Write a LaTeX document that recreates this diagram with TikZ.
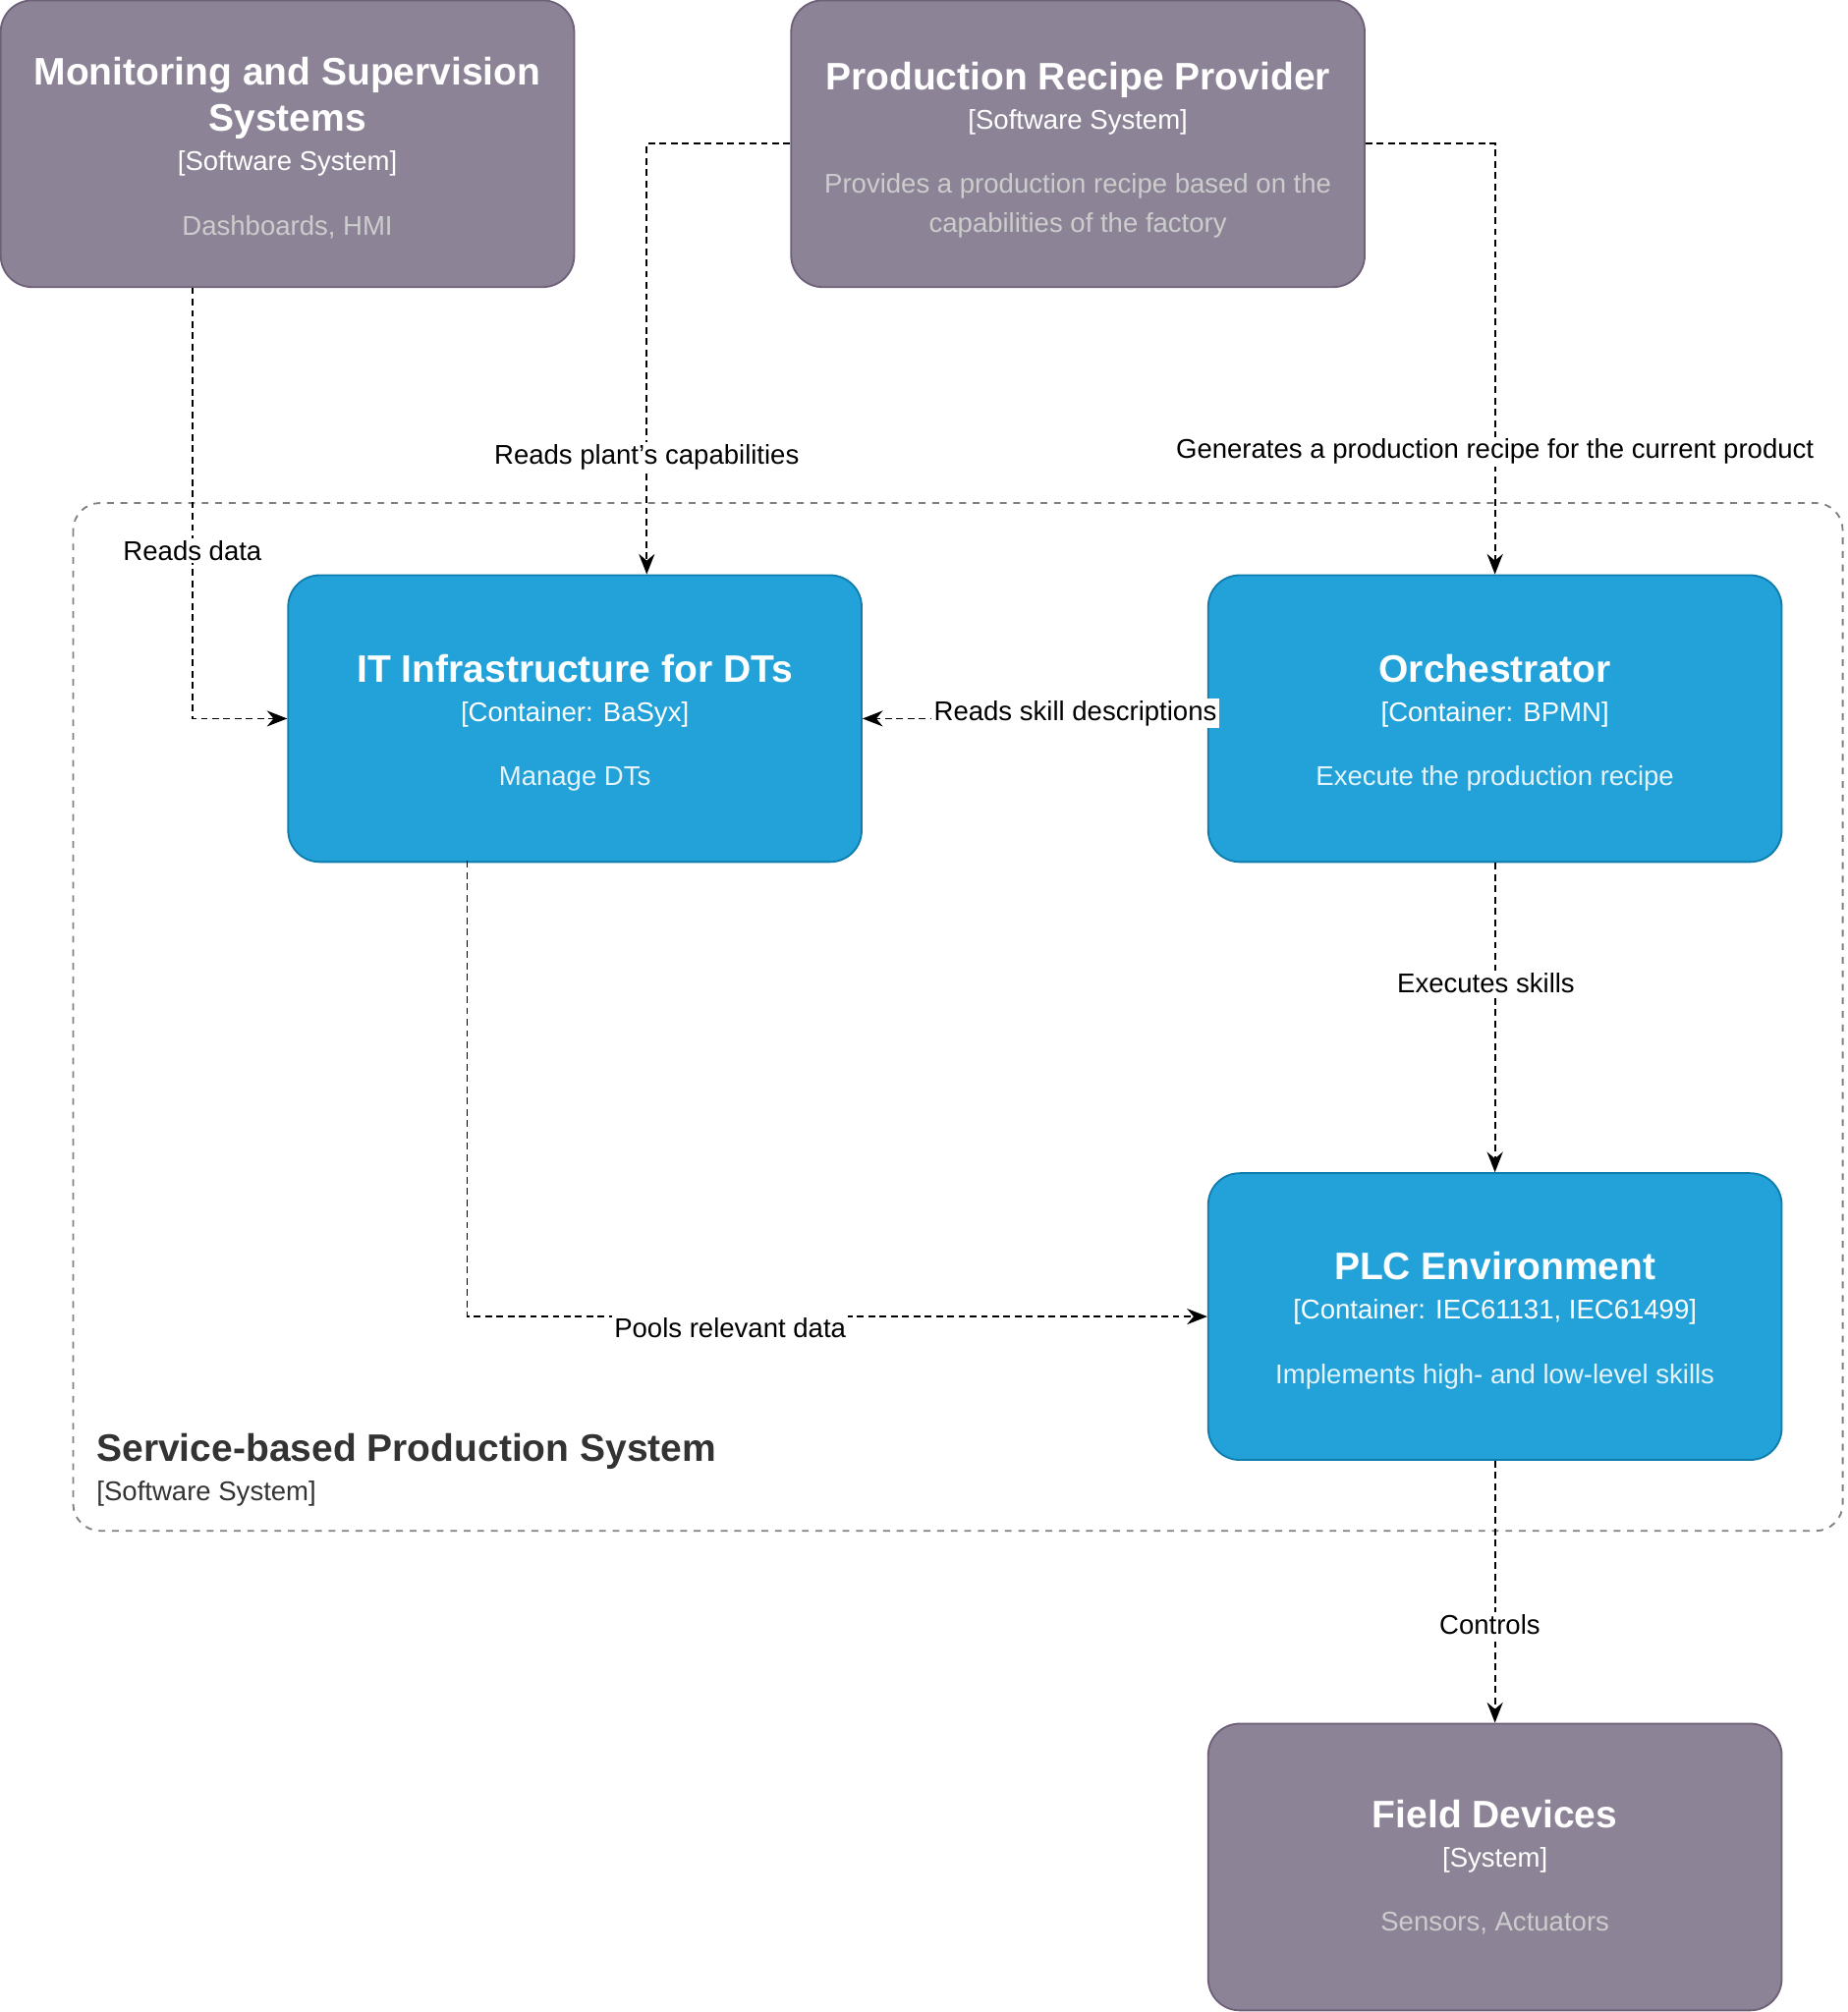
\documentclass[tikz,border=0pt]{standalone}
\usepackage{fontspec}
\setmainfont{Liberation Sans}
\usetikzlibrary{positioning,arrows.meta}
\definecolor{sysgrey}{HTML}{8C8496}
\definecolor{sysline}{HTML}{6E6078}
\definecolor{contblue}{HTML}{23A2D9}
\definecolor{contline}{HTML}{0E7DAD}
\definecolor{desctext}{HTML}{CCCCCC}
\tikzset{
  ext/.style={draw=sysline, fill=sysgrey, rounded corners=14pt, minimum width=8.94cm, minimum height=4.47cm, text=white, align=center, line width=0.8pt, font=\fontsize{12}{14.5}\selectfont},
  cont/.style={draw=contline, fill=contblue, rounded corners=14pt, minimum width=8.94cm, minimum height=4.47cm, text=white, align=center, line width=0.8pt, font=\fontsize{12}{14.5}\selectfont},
  rel/.style={densely dashed, line width=0.8pt, -{Stealth[length=9pt,width=7pt]}},
  lbl/.style={fill=white, inner sep=1pt, font=\fontsize{12}{14}\selectfont},
}
\newcommand{\ttl}[1]{{\fontsize{17}{20}\selectfont\bfseries #1}}
\newcommand{\typ}[1]{{\fontsize{12}{14.5}\selectfont #1}}
\newcommand{\dsc}[1]{{\color{desctext}#1}}
\begin{document}
\begin{tikzpicture}[x=0.02cm,y=-0.02cm]
	\useasboundingbox (0,0) rectangle (1440,1568);
	% boundary
	\draw[dashed, gray, line width=0.8pt, rounded corners=12pt] (57,392) rectangle (1436,1193);
	\node[anchor=north west, inner sep=0, align=left, text=black!80, font=\fontsize{12}{14.5}\selectfont] (sps) at (75,1117)
		{\ttl{Service-based Production System}\\[3pt]\typ{[Software System]}};
	% systems
	\node[ext] (mon) at (224,112) {\rule{0pt}{16pt}\ttl{Monitoring and Supervision}\\[4pt]\ttl{Systems}\\[3pt]\typ{[Software System]}\\[14pt]\dsc{Dashboards, HMI}};
	\node[ext] (rec) at (840,112) {\rule{0pt}{18pt}\ttl{Production Recipe Provider}\\[3pt]\typ{[Software System]}\\[14pt]\dsc{Provides a production recipe based on the}\\[3pt]\dsc{capabilities of the factory}};
	\node[cont] (it) at (448,560) {\rule{0pt}{16pt}\ttl{IT Infrastructure for DTs}\\[3pt]\typ{[Container: BaSyx]}\\[14pt]\dsc{\color{white!88!contblue}Manage DTs}};
	\node[cont] (orc) at (1165,560) {\rule{0pt}{16pt}\ttl{Orchestrator}\\[3pt]\typ{[Container: BPMN]}\\[14pt]\dsc{\color{white!88!contblue}Execute the production recipe}};
	\node[cont] (plc) at (1165,1026) {\rule{0pt}{16pt}\ttl{PLC Environment}\\[3pt]\typ{[Container: IEC61131, IEC61499]}\\[14pt]\dsc{\color{white!88!contblue}Implements high- and low-level skills}};
	\node[ext] (fld) at (1165,1455) {\ttl{Field Devices}\\[3pt]\typ{[System]}\\[14pt]\dsc{Sensors, Actuators}};
	% connectors
	\coordinate (monout) at (150,224);
	\draw[rel] (monout) |- (it.west);
	\node[lbl] (l0) at (150,429) {Reads data};
	\draw[rel] (rec.west) -| (it.north -| 504,0);
	\node[lbl] (l1) at (504,356) {Reads plant's capabilities};
	\draw[rel] (rec.east) -| (orc.north);
	\node[lbl] (l2) at (1165,352) {Generates a production recipe for the current product};
	\draw[rel] (orc.west) -- (it.east);
	\node[lbl] (l4) at (838,556) {Reads skill descriptions};
	\draw[rel] (orc.south) -- (plc.north);
	\node[lbl] (l5) at (1158,766) {Executes skills};
	\coordinate (itout) at (364,671);
	\draw[rel] (itout) |- (plc.west);
	\node[lbl] (l3) at (569,1035) {Pools relevant data};
	\draw[rel] (plc.south) -- (fld.north);
	\node[lbl] (l6) at (1161,1266) {Controls};
\end{tikzpicture}
\end{document}
